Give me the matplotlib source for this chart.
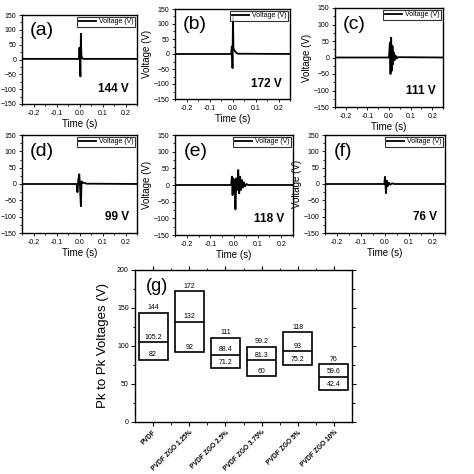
import matplotlib
matplotlib.use("Agg")
import matplotlib.pyplot as plt
from matplotlib.ticker import MultipleLocator

plt.rcParams['font.family'] = ['Liberation Sans', 'DejaVu Sans']

# ---- waveform data ----
t_a = [-0.25, -0.002, 0.0, 0.002, 0.004, 0.006, 0.008, 0.011, 0.016, 0.25]
v_a = [2, 2, 40, -10, -57, 87, 15, 6, 2, 2]
t_b = [-0.25, -0.006, -0.003, -0.001, 0.0, 0.002, 0.004, 0.008, 0.014, 0.022, 0.25]
v_b = [0, 0, 25, -10, -47, 127, 20, 12, 6, 1, 0]
t_c = [-0.25, 0.0, 0.004, 0.007, 0.010, 0.013, 0.016, 0.019, 0.022, 0.026, 0.030, 0.035, 0.042, 0.25]
v_c = [0, 0, 45, -50, 60, -40, 35, -20, 15, -8, 6, -3, 1, 0]
t_d = [-0.25, -0.012, -0.009, -0.005, -0.001, 0.002, 0.006, 0.009, 0.013, 0.02, 0.03, 0.25]
v_d = [0, 0, -25, 15, 30, -5, -68, 8, 3, 4, 1, 0]
t_e = [-0.25, -0.012, -0.009, -0.006, -0.003, 0.0, 0.003, 0.006, 0.010, 0.014, 0.018, 0.022,
       0.026, 0.030, 0.034, 0.038, 0.042, 0.047, 0.053, 0.06, 0.25]
v_e = [0, 0, 25, -30, 20, -20, 15, -73, 20, -15, 45, -25, 25, -15, 15, -8, 8, -4, 3, 0, 0]
t_f = [-0.25, -0.003, 0.0, 0.004, 0.008, 0.012, 0.016, 0.022, 0.03, 0.04, 0.25]
v_f = [0, 0, 22, -28, 10, -6, 4, -2, 2, 0, 0]

panel_labels = ['(a)', '(b)', '(c)', '(d)', '(e)', '(f)']
pk_labels = ['144 V', '172 V', '111 V', '99 V', '118 V', '76 V']
series = [(t_a, v_a), (t_b, v_b), (t_c, v_c), (t_d, v_d), (t_e, v_e), (t_f, v_f)]

# ---- box data ----
categories = ['PVDF', 'PVDF ZGO 1.25%', 'PVDF ZGO 2.5%', 'PVDF ZGO 3.75%', 'PVDF ZGO 5%', 'PVDF ZGO 10%']
low = [82, 92, 71.2, 60, 75.2, 42.4]
mid = [105.2, 132, 88.4, 81.3, 93, 59.6]
high = [144, 172, 111, 99.2, 118, 76]
low_txt = ['82', '92', '71.2', '60', '75.2', '42.4']
mid_txt = ['105.2', '132', '88.4', '81.3', '93', '59.6']
high_txt = ['144', '172', '111', '99.2', '118', '76']

W = H = 474
fig = plt.figure(figsize=(4.74, 4.74), dpi=100)

def rect(l, r, t, b):
    return [l / W, 1 - b / H, (r - l) / W, (b - t) / H]

boxes = [rect(22, 137, 15, 104), rect(175, 290, 9, 99), rect(335, 443, 8, 107),
         rect(22, 137, 135, 233), rect(175, 293, 135, 235), rect(325, 445, 135, 233)]

for i, (t, v) in enumerate(series):
    ax = fig.add_axes(boxes[i])
    ax.plot(t, v, color='black', lw=1.3, label='Voltage (V)')
    ax.set_xlim(-0.25, 0.25)
    ax.set_ylim(-150, 150)
    ax.xaxis.set_minor_locator(MultipleLocator(0.05))
    ax.yaxis.set_major_locator(MultipleLocator(50))
    ax.yaxis.set_minor_locator(MultipleLocator(25))
    ax.set_xticks([-0.2, -0.1, 0.0, 0.1, 0.2])
    ax.set_xticklabels(['-0.2', '-0.1', '0.0', '0.1', '0.2'])
    ax.tick_params(axis='both', which='both', labelsize=5, width=0.6, pad=1.5)
    ax.tick_params(which='major', length=2.5)
    ax.tick_params(which='minor', length=1.5)
    for s in ax.spines.values():
        s.set_linewidth(1.0)
    ax.set_xlabel('Time (s)', fontsize=7, labelpad=2)
    ax.set_ylabel('Voltage (V)', fontsize=7, labelpad=1)
    leg = ax.legend(loc='upper right', fontsize=5, frameon=True, fancybox=False,
                    handlelength=2.5, borderpad=0.2, handletextpad=0.4, borderaxespad=0.3)
    leg.get_frame().set_edgecolor('black')
    leg.get_frame().set_linewidth(0.8)
    ax.text(0.07, 0.92, panel_labels[i], transform=ax.transAxes, fontsize=14,
            va='top', ha='left')
    ax.text(0.93, 0.1, pk_labels[i], transform=ax.transAxes, fontsize=8.5,
            fontweight='bold', va='bottom', ha='right')

# ---- panel g ----
axg = fig.add_axes(rect(135, 352, 270, 422))
x = list(range(len(categories)))
heights = [h - l for h, l in zip(high, low)]
axg.bar(x, heights, bottom=low, width=0.8, fill=False, edgecolor='black', linewidth=1.2)
axg.hlines(mid, [xi - 0.4 for xi in x], [xi + 0.4 for xi in x], color='black', lw=1.2)
for xi, lo, md, hi, lt, mt, ht in zip(x, low, mid, high, low_txt, mid_txt, high_txt):
    axg.text(xi, hi + 2, ht, ha='center', va='bottom', fontsize=5)
    axg.text(xi, md + 2, mt, ha='center', va='bottom', fontsize=5)
    axg.text(xi, lo + 2, lt, ha='center', va='bottom', fontsize=5)
axg.set_xlim(-0.5, 5.5)
axg.set_ylim(0, 200)
axg.yaxis.set_major_locator(MultipleLocator(50))
axg.yaxis.set_minor_locator(MultipleLocator(25))
axg.set_xticks(x)
axg.set_xticks([xi + 0.5 for xi in x[:-1]], minor=True)
axg.set_xticklabels(categories, rotation=45, ha='right', rotation_mode='anchor',
                    fontsize=4.8, fontweight='bold')
axg.tick_params(axis='x', which='major', pad=2)
axg.tick_params(axis='y', which='both', labelsize=5, width=0.7, pad=1.5)
axg.tick_params(which='major', length=3)
axg.tick_params(which='minor', length=1.8)
axg.tick_params(top=True, right=True, which='both')
for s in axg.spines.values():
    s.set_linewidth(1.0)
axg.set_ylabel('Pk to Pk Voltages (V)', fontsize=9.5, labelpad=6)
axg.text(0.05, 0.95, '(g)', transform=axg.transAxes, fontsize=13, va='top', ha='left')

fig.savefig('out.png', dpi=100)
